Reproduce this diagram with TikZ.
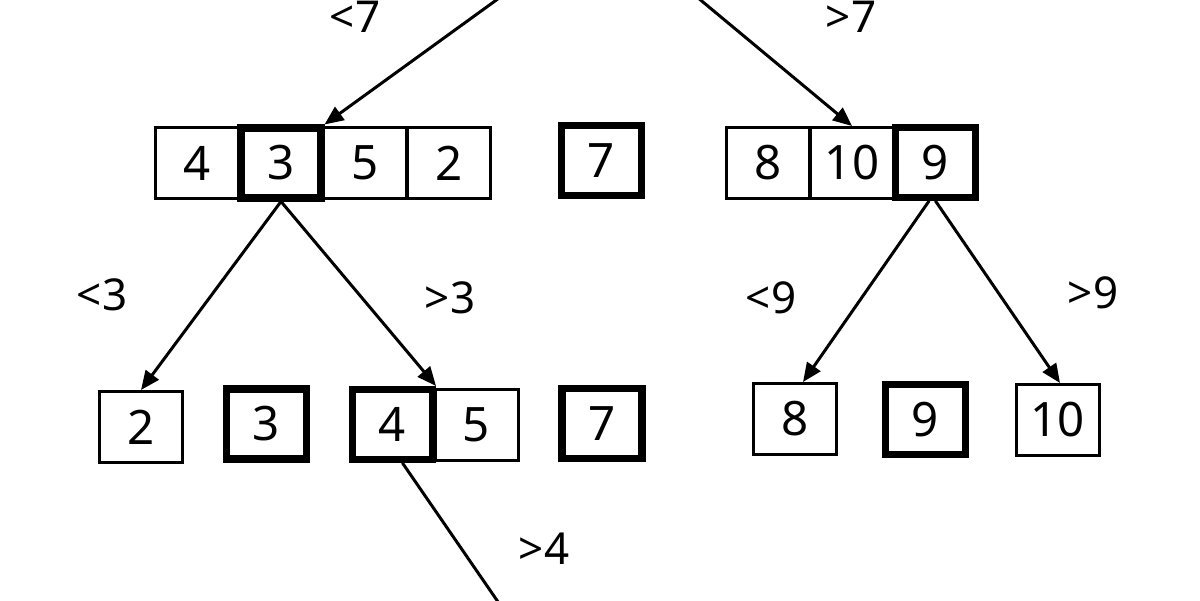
\documentclass[tikz,border=0pt]{standalone}
\usepackage{fontspec}
\setmainfont{Noto Sans}
\usepackage{tikz}
\usetikzlibrary{arrows.meta}

\begin{document}
\begin{tikzpicture}[>={Stealth[length=3.8mm,width=3.2mm,inset=0pt]},line cap=round,
  cell/.style={draw,line width=1.7pt,minimum width=1.66cm,minimum height=1.42cm,inner sep=0pt,font=\fontsize{27}{30}\selectfont},
  pivot/.style={cell,line width=4pt,minimum width=1.6cm,minimum height=1.4cm},
  cut/.style={font=\fontsize{25}{28}\selectfont},
  link/.style={->,line width=1.7pt}]
\clip (0,0) rectangle (24,12);
% first split around 7
\node[cell] (a4) at (3.94,8.74) {4};
\node[cell] (a5) at (7.30,8.74) {5};
\node[cell] (a2) at (8.98,8.74) {2};
\node[pivot] (a3) at (5.62,8.74) {3};
\node[pivot] (a7) at (12.03,8.79) {7};
\node[cell] (a8) at (15.36,8.74) {8};
\node[cell] (a10) at (17.04,8.74) {10};
\node[pivot] (a9) at (18.71,8.75) {9};
% second split
\node[cell] (b2) at (2.82,3.46) {2};
\node[pivot] (b3) at (5.33,3.52) {3};
\node[cell] (b5) at (9.53,3.50) {5};
\node[pivot] (b4) at (7.85,3.51) {4};
\node[pivot] (b7) at (12.04,3.53) {7};
\node[cell] (b8) at (15.90,3.62) {8};
\node[pivot] (b9) at (18.50,3.61) {9};
\node[cell] (b10) at (21.15,3.60) {10};
% labels
\node[cut] (lt7) at (7.10,11.66) {<7};
\node[cut] (gt7) at (17.02,11.66) {>7};
\node[cut] (lt3) at (2.04,6.10) {<3};
\node[cut] (gt3) at (9.00,6.04) {>3};
\node[cut] (lt9) at (15.42,6.04) {<9};
\node[cut] (gt9) at (21.86,6.14) {>9};
\node[cut] (gt4) at (10.88,1.02) {>4};
% arrows
\coordinate (topl) at (10.48,12.4);
\coordinate (topr) at (13.53,12.4);
\coordinate (down) at (10.21,-0.4);
\draw[link] (topl) -- (a3.north east);
\draw[link] (topr) -- (a10.north);
\draw[link] (a3.south) -- (b2.north);
\draw[link] (a3.south) -- (b4.north east);
\draw[link] ([xshift=-1.3mm]a9.south) -- ([xshift=1.6mm]b8.north);
\draw[link] (a9.south) -- ([xshift=0.5mm]b10.north);
\draw[line width=1.7pt] ([xshift=2mm]b4.south) -- (down);
\end{tikzpicture}
\end{document}
